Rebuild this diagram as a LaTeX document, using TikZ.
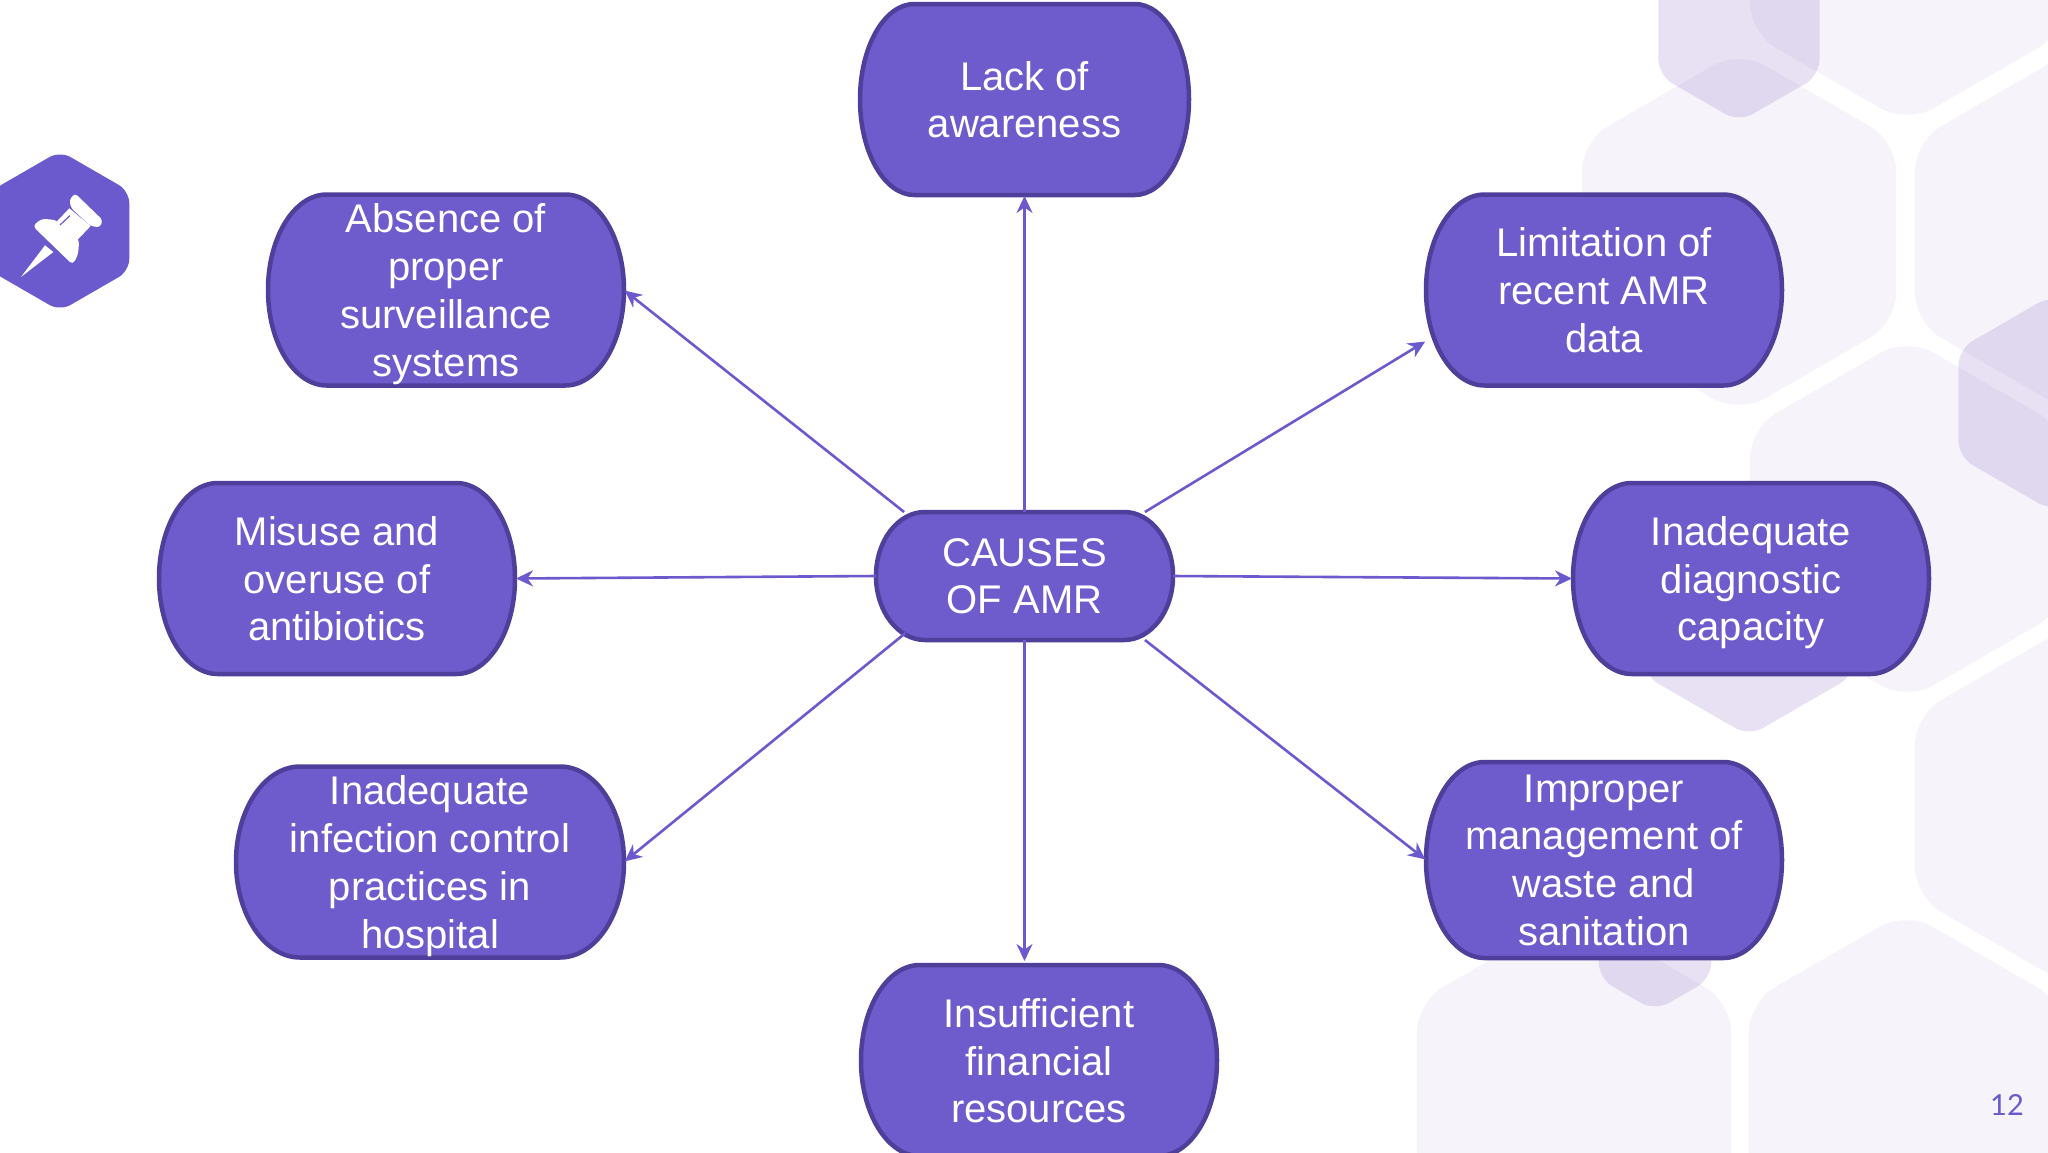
\documentclass[tikz,border=0pt]{standalone}
\usepackage{fontspec}
\setmainfont{Liberation Sans}
\newfontfamily\pagefont{Lato}
\usetikzlibrary{arrows.meta, positioning}

\definecolor{slate}{HTML}{6A5ACD}
\definecolor{slatefill}{HTML}{6F5CCC}
\definecolor{slateline}{HTML}{4F3F9B}
\definecolor{hexcol}{HTML}{7B5BC0}

% box with half-elliptic ends
\makeatletter
\pgfdeclareshape{pill}{
  \inheritsavedanchors[from=rectangle]
  \inheritanchorborder[from=rectangle]
  \inheritanchor[from=rectangle]{center}
  \inheritanchor[from=rectangle]{north}
  \inheritanchor[from=rectangle]{south}
  \inheritanchor[from=rectangle]{east}
  \inheritanchor[from=rectangle]{west}
  \backgroundpath{
    \southwest \pgf@xa=\pgf@x \pgf@ya=\pgf@y
    \northeast \pgf@xb=\pgf@x \pgf@yb=\pgf@y
    \pgf@xc=\pgf@xb \advance\pgf@xc by -\pgf@xa \pgf@xc=0.165\pgf@xc
    \pgf@yc=\pgf@yb \advance\pgf@yc by -\pgf@ya \pgf@yc=0.5\pgf@yc
    \advance\pgf@xa by \pgf@xc
    \advance\pgf@xb by -\pgf@xc
    \edef\pillxl{\the\pgf@xa}\edef\pillxr{\the\pgf@xb}
    \edef\pillyb{\the\pgf@ya}\edef\pillyt{\the\pgf@yb}
    \edef\pillrx{\the\pgf@xc}\edef\pillry{\the\pgf@yc}
    \pgfpathmoveto{\pgfqpoint{\pillxl}{\pillyt}}
    \pgfpathlineto{\pgfqpoint{\pillxr}{\pillyt}}
    \pgfpatharc{90}{-90}{\pillrx and \pillry}
    \pgfpathlineto{\pgfqpoint{\pillxl}{\pillyb}}
    \pgfpatharc{270}{90}{\pillrx and \pillry}
    \pgfpathclose
  }
}
\makeatother

% \hexa[style]{x}{y}{radius}: pointy hexagon at pixel position
\newcommand{\hexa}[4][H1]{
  \fill[#1, shift={(#2pt,-#3pt)}] (90:#4pt) -- (150:#4pt) -- (210:#4pt)
    -- (270:#4pt) -- (330:#4pt) -- (30:#4pt) -- cycle;
}

\begin{document}
\begin{tikzpicture}[
  x = 1pt, y = 1pt,            % one unit is one pixel
  > = {Stealth[length=17pt, width=16pt]},
  shorten > = 1pt,
  on grid,                     % distances between node centres
  line width = 2.6pt
  ]

  \tikzstyle{H1}=[      % pale hexagon
  fill = hexcol, fill opacity = 0.065,
  rounded corners = 30pt
  ]

  \tikzstyle{H2}=[      % darker hexagon
  fill = hexcol, fill opacity = 0.18,
  rounded corners = 16pt
  ]

  \tikzstyle{P1}=[      % purple box
  shape = pill,
  draw = slateline, fill = slatefill,
  line width = 4.5pt,
  text = white, align = center,
  inner sep = 0pt, outer sep = 0pt,
  font = \fontsize{40}{47.7}\selectfont,
  text depth = -1.5pt,  % keeps the lines centred
  minimum width = 356pt, minimum height = 191pt
  ]

  \tikzstyle{A1}=[      % arrow
  color = slate, line width = 2.6pt
  ]

  \useasboundingbox (0,0) rectangle (2048,-1152);
  \fill[white] (0,0) rectangle (2048,-1152);

  % Background hexagons
  \hexa{1739}{232}{181.5}
  \hexa{1907}{-58}{181.5}
  \hexa{2072}{232}{181.5}
  \hexa{1907}{519}{181.5}
  \hexa{2072}{806}{181.5}
  \hexa{1906}{1093}{181.5}
  \hexa{1574}{1093}{181.5}
  \hexa[H2]{1739}{29}{93}
  \hexa[H2]{2052}{403}{108}
  \hexa[H2]{1749}{615}{121}
  \hexa[H2]{1655}{946}{65}

  % Corner badge with the pin
  \hexa[fill = slate, rounded corners = 12pt]{60}{231}{80}
  \begin{scope}[shift={(0,-140)}, x = 0.3333pt, y = -0.3333pt]
    \fill[white, rounded corners = 3pt] (225,160) -- (308,240) -- (300,262)
      -- (272,258) -- (214,205) -- (208,180) -- cycle;
    \fill[white] (208,205) -- (272,258) -- (232,300) -- (170,245) -- cycle;
    \fill[white, rounded corners = 4pt] (98,258) -- (125,236) -- (168,240)
      -- (238,300) -- (234,345) -- (218,374) -- cycle;
    \fill[white] (135,316) -- (63,411) -- (160,336) -- cycle;
    \draw[slate, line width = 1.2pt] (180,255) -- (212,225);
  \end{scope}

  % Definition of the nodes
  \node[P1, minimum width = 297pt, minimum height = 128pt] (causes) at (1024.5,-576) {CAUSES\\OF AMR};

  \node[P1, minimum width = 329pt] (lack) [above=476.5pt of causes] {Lack of\\awareness};
  \node[P1] (absence) [above left=286pt and 578.5pt of causes] {Absence of\\proper\\surveillance\\systems};
  \node[P1] (limit) [above right=286pt and 579.5pt of causes] {Limitation of\\recent AMR\\data};
  \node[P1] (misuse) [below left=2.5pt and 687.5pt of causes] {Misuse and\\overuse of\\antibiotics};
  \node[P1] (diag) [below right=2.5pt and 726.5pt of causes] {Inadequate\\diagnostic\\capacity};
  \node[P1, minimum width = 388pt] (infect) [below left=286pt and 594.5pt of causes] {Inadequate\\infection control\\practices in\\hospital};
  \node[P1, minimum height = 196pt] (waste) [below right=284pt and 579.5pt of causes] {Improper\\management of\\waste and\\sanitation};
  \node[P1] (funds) [below right=484.5pt and 14.5pt of causes] {Insufficient\\financial\\resources};

  \node[text = slate, font = \pagefont\fontsize{29}{32}\selectfont] (pagenum) at (2007,-1105) {12};

  % Arrows from the centre
  \path[->, A1] (causes.north) edge (lack.south);
  \path[->, A1] (causes.152) edge (absence.east);
  \path[->, A1] (causes.28) edge (limit.196);
  \path[->, A1] (causes.west) edge (misuse.east);
  \path[->, A1] (causes.east) edge (diag.west);
  \path[->, A1] ([shift={(-119pt,-57pt)}]causes.center) edge (infect.east);
  \path[->, A1] (causes.332) edge (waste.west);
  \path[->, A1, shorten > = 4pt] (causes.south) edge (causes.south |- funds.north);
\end{tikzpicture}
\end{document}
